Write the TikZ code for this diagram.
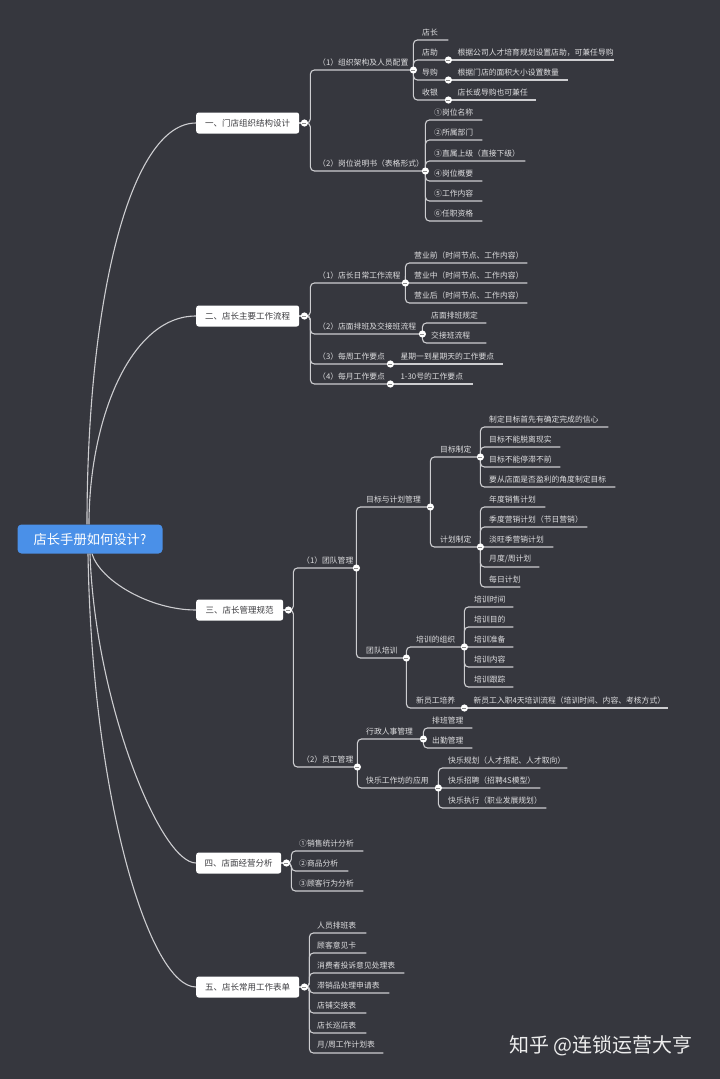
\documentclass[tikz,border=0pt]{standalone}
\usepackage{fontspec}
\setmainfont{Noto Sans CJK SC}
\definecolor{bgc}{RGB}{54,55,62}
\definecolor{linec}{RGB}{205,205,208}
\definecolor{txtc}{RGB}{222,222,224}
\definecolor{rootc}{RGB}{74,144,232}
\definecolor{boxtxt}{RGB}{60,60,64}
\begin{document}
\begin{tikzpicture}[x=1pt,y=-1pt,
    conn/.style={draw=linec,line width=1.1pt,rounded corners=4pt},
    leaf/.style={anchor=south west,inner xsep=0pt,inner ysep=3.5pt,text=txtc,font=\fontsize{7.8}{9}\selectfont,align=left},
    secbox/.style={fill=white,rounded corners=2.5pt,text=boxtxt,font=\fontsize{8.5}{10}\selectfont,minimum height=21pt,anchor=west,inner xsep=0pt}]
  \fill[bgc] (0,0) rectangle (720,1079);
  \useasboundingbox (0,0) rectangle (720,1079);

  \node[fill=rootc,rounded corners=4pt,minimum width=145pt,minimum height=29pt,text=white,font=\fontsize{13.3}{15}\selectfont] (root) at (90,539) {店长手册如何设计?};

  \node[secbox,minimum width=103pt] (s1) at (196,123) {一、门店组织结构设计};
  \node[secbox,minimum width=103pt] (s2) at (196,316) {二、店长主要工作流程};
  \node[secbox,minimum width=87pt] (s3) at (196,610) {三、店长管理规范};
  \node[secbox,minimum width=85pt] (s4) at (196,863) {四、店面经营分析};
  \node[secbox,minimum width=103pt] (s5) at (196,987) {五、店长常用工作表单};
  \draw[conn] ([xshift=-3pt]root.north) .. controls ++(0,-224) and ++(-66,0) .. (s1.west);
  \draw[conn] ([xshift=-1pt]root.north) .. controls ++(0,-104) and ++(-66,0) .. (s2.west);
  \draw[conn] ([xshift=2pt]root.south) .. controls ++(8,27) and ++(-46,0) .. (s3.west);
  \draw[conn] ([xshift=0pt]root.south) .. controls ++(5,147) and ++(-36,0) .. (s4.west);
  \draw[conn] ([xshift=-2pt]root.south) .. controls ++(4,247) and ++(-46,0) .. (s5.west);
  \foreach \i in {1,...,5} {
    \coordinate (d\i) at ([xshift=5pt]s\i.east);
    \draw[conn] (s\i.east) -- (d\i);
  }

  % 一
  \node[leaf,text width=95pt] (n11) at (318,70) {（1）组织架构及人员配置};
  \node[leaf,text width=107pt] (n12) at (318,171) {（2）岗位说明书（表格形式）};
  \foreach \i in {1,2} {
    \coordinate (d1\i) at (n1\i.south east);
    \draw[conn] (d1) -- ++(6,0) |- (d1\i);
  }
  \foreach \y/\t [count=\i] in {40/店长,60/店助,80/导购,100/收银} {
    \node[leaf,text width=26pt] (n11-\i) at (422,\y) {\t};
    \draw[conn] (d11) |- (n11-\i.south east);
  }
  \foreach \i/\w/\t in {2/156/根据公司人才培育规划设置店助，可兼任导购,3/110/根据门店的面积大小设置数量,4/78/店长或导购也可兼任} {
    \coordinate (d11-\i) at (n11-\i.south east);
    \node[leaf,text width=\w pt] (m11-\i) at ([xshift=9pt]d11-\i) {\t};
    \draw[conn] (d11-\i) -- (m11-\i.south east);
  }
  \foreach \y/\w/\t [count=\i] in {120/48/①岗位名称,140/48/②所属部门,161/91/③直属上级（直接下级）,181/48/④岗位概要,201/48/⑤工作内容,221/48/⑥任职资格} {
    \node[leaf,text width=\w pt] (n12-\i) at (434,\y) {\t};
    \draw[conn] (d12) |- (n12-\i.south east);
  }

  % 二
  \node[leaf,text width=87pt] (n21) at (318,283) {（1）店长日常工作流程};
  \node[leaf,text width=104pt] (n22) at (318,334) {（2）店面排班及交接班流程};
  \node[leaf,text width=72pt] (n23) at (318,364) {（3）每周工作要点};
  \node[leaf,text width=72pt] (n24) at (318,384) {（4）每月工作要点};
  \foreach \i in {1,...,4} {
    \coordinate (d2\i) at (n2\i.south east);
    \draw[conn] (d2) -- ++(6,0) |- (d2\i);
  }
  \foreach \y/\t [count=\i] in {263/营业前（时间节点、工作内容）,283/营业中（时间节点、工作内容）,303/营业后（时间节点、工作内容）} {
    \node[leaf,text width=113pt] (n21-\i) at (414,\y) {\t};
    \draw[conn] (d21) |- (n21-\i.south east);
  }
  \foreach \y/\t [count=\i] in {323/店面排班规定,343/交接班流程} {
    \node[leaf,text width=55pt] (n22-\i) at (431,\y) {\t};
    \draw[conn] (d22) |- (n22-\i.south east);
  }
  \node[leaf,text width=102pt] (m23) at ([xshift=10pt]d23) {星期一到星期天的工作要点};
  \node[leaf,text width=72pt] (m24) at ([xshift=10pt]d24) {1-30号的工作要点};
  \draw[conn] (d23) -- (m23.south east);
  \draw[conn] (d24) -- (m24.south east);

  % 三
  \node[leaf,text width=54pt] (n31) at (302,568) {（1）团队管理};
  \node[leaf,text width=55pt] (n32) at (302,767) {（2）员工管理};
  \foreach \i in {1,2} {
    \coordinate (d3\i) at (n3\i.south east);
    \draw[conn] (d3) -- ++(5,0) |- (d3\i);
  }
  \node[leaf,text width=64pt] (n311) at (366,507) {目标与计划管理};
  \node[leaf,text width=40pt] (n312) at (366,658) {团队培训};
  \foreach \i in {1,2} {
    \coordinate (d31\i) at (n31\i.south east);
    \draw[conn] (d31) |- (d31\i);
  }
  \node[leaf,text width=40pt] (n3111) at (440,457) {目标制定};
  \node[leaf,text width=40pt] (n3112) at (440,547) {计划制定};
  \foreach \i in {1,2} {
    \coordinate (d311\i) at (n311\i.south east);
    \draw[conn] (d311) |- (d311\i);
  }
  \foreach \y/\w/\t [count=\i] in {427/119/制定目标首先有确定完成的信心,447/71/目标不能脱离现实,467/71/目标不能停滞不前,487/126/要从店面是否盈利的角度制定目标} {
    \node[leaf,text width=\w pt] (n3111-\i) at (489,\y) {\t};
    \draw[conn] (d3111) |- (n3111-\i.south east);
  }
  \foreach \y/\w/\t [count=\i] in {507/56/年度销售计划,527/98/季度营销计划（节日营销）,547/64/淡旺季营销计划,567/50/{月度/周计划},587/31/每日计划} {
    \node[leaf,text width=\w pt] (n3112-\i) at (489,\y) {\t};
    \draw[conn] (d3112) |- (n3112-\i.south east);
  }
  \node[leaf,text width=48pt] (n3121) at (416,647) {培训的组织};
  \node[leaf,text width=48pt] (n3122) at (416,708) {新员工培养};
  \foreach \i in {1,2} {
    \coordinate (d312\i) at (n312\i.south east);
    \draw[conn] (d312) |- (d312\i);
  }
  \foreach \y/\t [count=\i] in {607/培训时间,627/培训目的,647/培训准备,667/培训内容,687/培训跟踪} {
    \node[leaf,text width=39pt] (n3121-\i) at (474,\y) {\t};
    \draw[conn] (d3121) |- (n3121-\i.south east);
  }
  \node[leaf,text width=194pt] (m3122) at ([xshift=9pt]d3122) {新员工入职4天培训流程（培训时间、内容、考核方式）};
  \draw[conn] (d3122) -- (m3122.south east);
  \node[leaf,text width=57pt] (n321) at (366,739) {行政人事管理};
  \node[leaf,text width=72pt] (n322) at (366,788) {快乐工作坊的应用};
  \foreach \i in {1,2} {
    \coordinate (d32\i) at (n32\i.south east);
    \draw[conn] (d32) |- (d32\i);
  }
  \foreach \y/\t [count=\i] in {728/排班管理,748/出勤管理} {
    \node[leaf,text width=40pt] (n321-\i) at (432,\y) {\t};
    \draw[conn] (d321) |- (n321-\i.south east);
  }
  \foreach \y/\w/\t [count=\i] in {768/119/快乐规划（人才搭配、人才取向）,788/92/快乐招聘（招聘4S模型）,808/98/快乐执行（职业发展规划）} {
    \node[leaf,text width=\w pt] (n322-\i) at (448,\y) {\t};
    \draw[conn] (d322) |- (n322-\i.south east);
  }

  % 四
  \foreach \y/\w/\t [count=\i] in {851/64/①销售统计分析,871/49/②商品分析,891/64/③顾客行为分析} {
    \node[leaf,text width=\w pt] (n4-\i) at (299,\y) {\t};
    \draw[conn] (d4) -- ++(5,0) |- (n4-\i.south east);
  }

  % 五
  \foreach \y/\w/\t [count=\i] in {933/49/人员排班表,953/49/顾客意见卡,973/87/消费者投诉意见处理表,993/72/滞销品处理申请表,1013/49/店铺交接表,1033/49/店长巡店表,1053/66/{月/周工作计划表}} {
    \node[leaf,text width=\w pt] (n5-\i) at (317,\y) {\t};
    \draw[conn] (d5) -- ++(5,0) |- (n5-\i.south east);
  }

  \foreach \d in {d1,d11,d12,d11-2,d11-3,d11-4,d2,d21,d22,d23,d24,d3,d31,d32,d311,d312,d3111,d3112,d3121,d3122,d321,d322,d4,d5} {
    \fill[white] (\d) circle (3.6);
    \draw[black!45,line width=.8pt] ([xshift=-2pt]\d) -- ([xshift=2pt]\d);
  }

  \node[text=white!93!black,font=\fontsize{20}{22}\selectfont] (mark) at (601,1046) {知乎 @连锁运营大亨};
\end{tikzpicture}
\end{document}
